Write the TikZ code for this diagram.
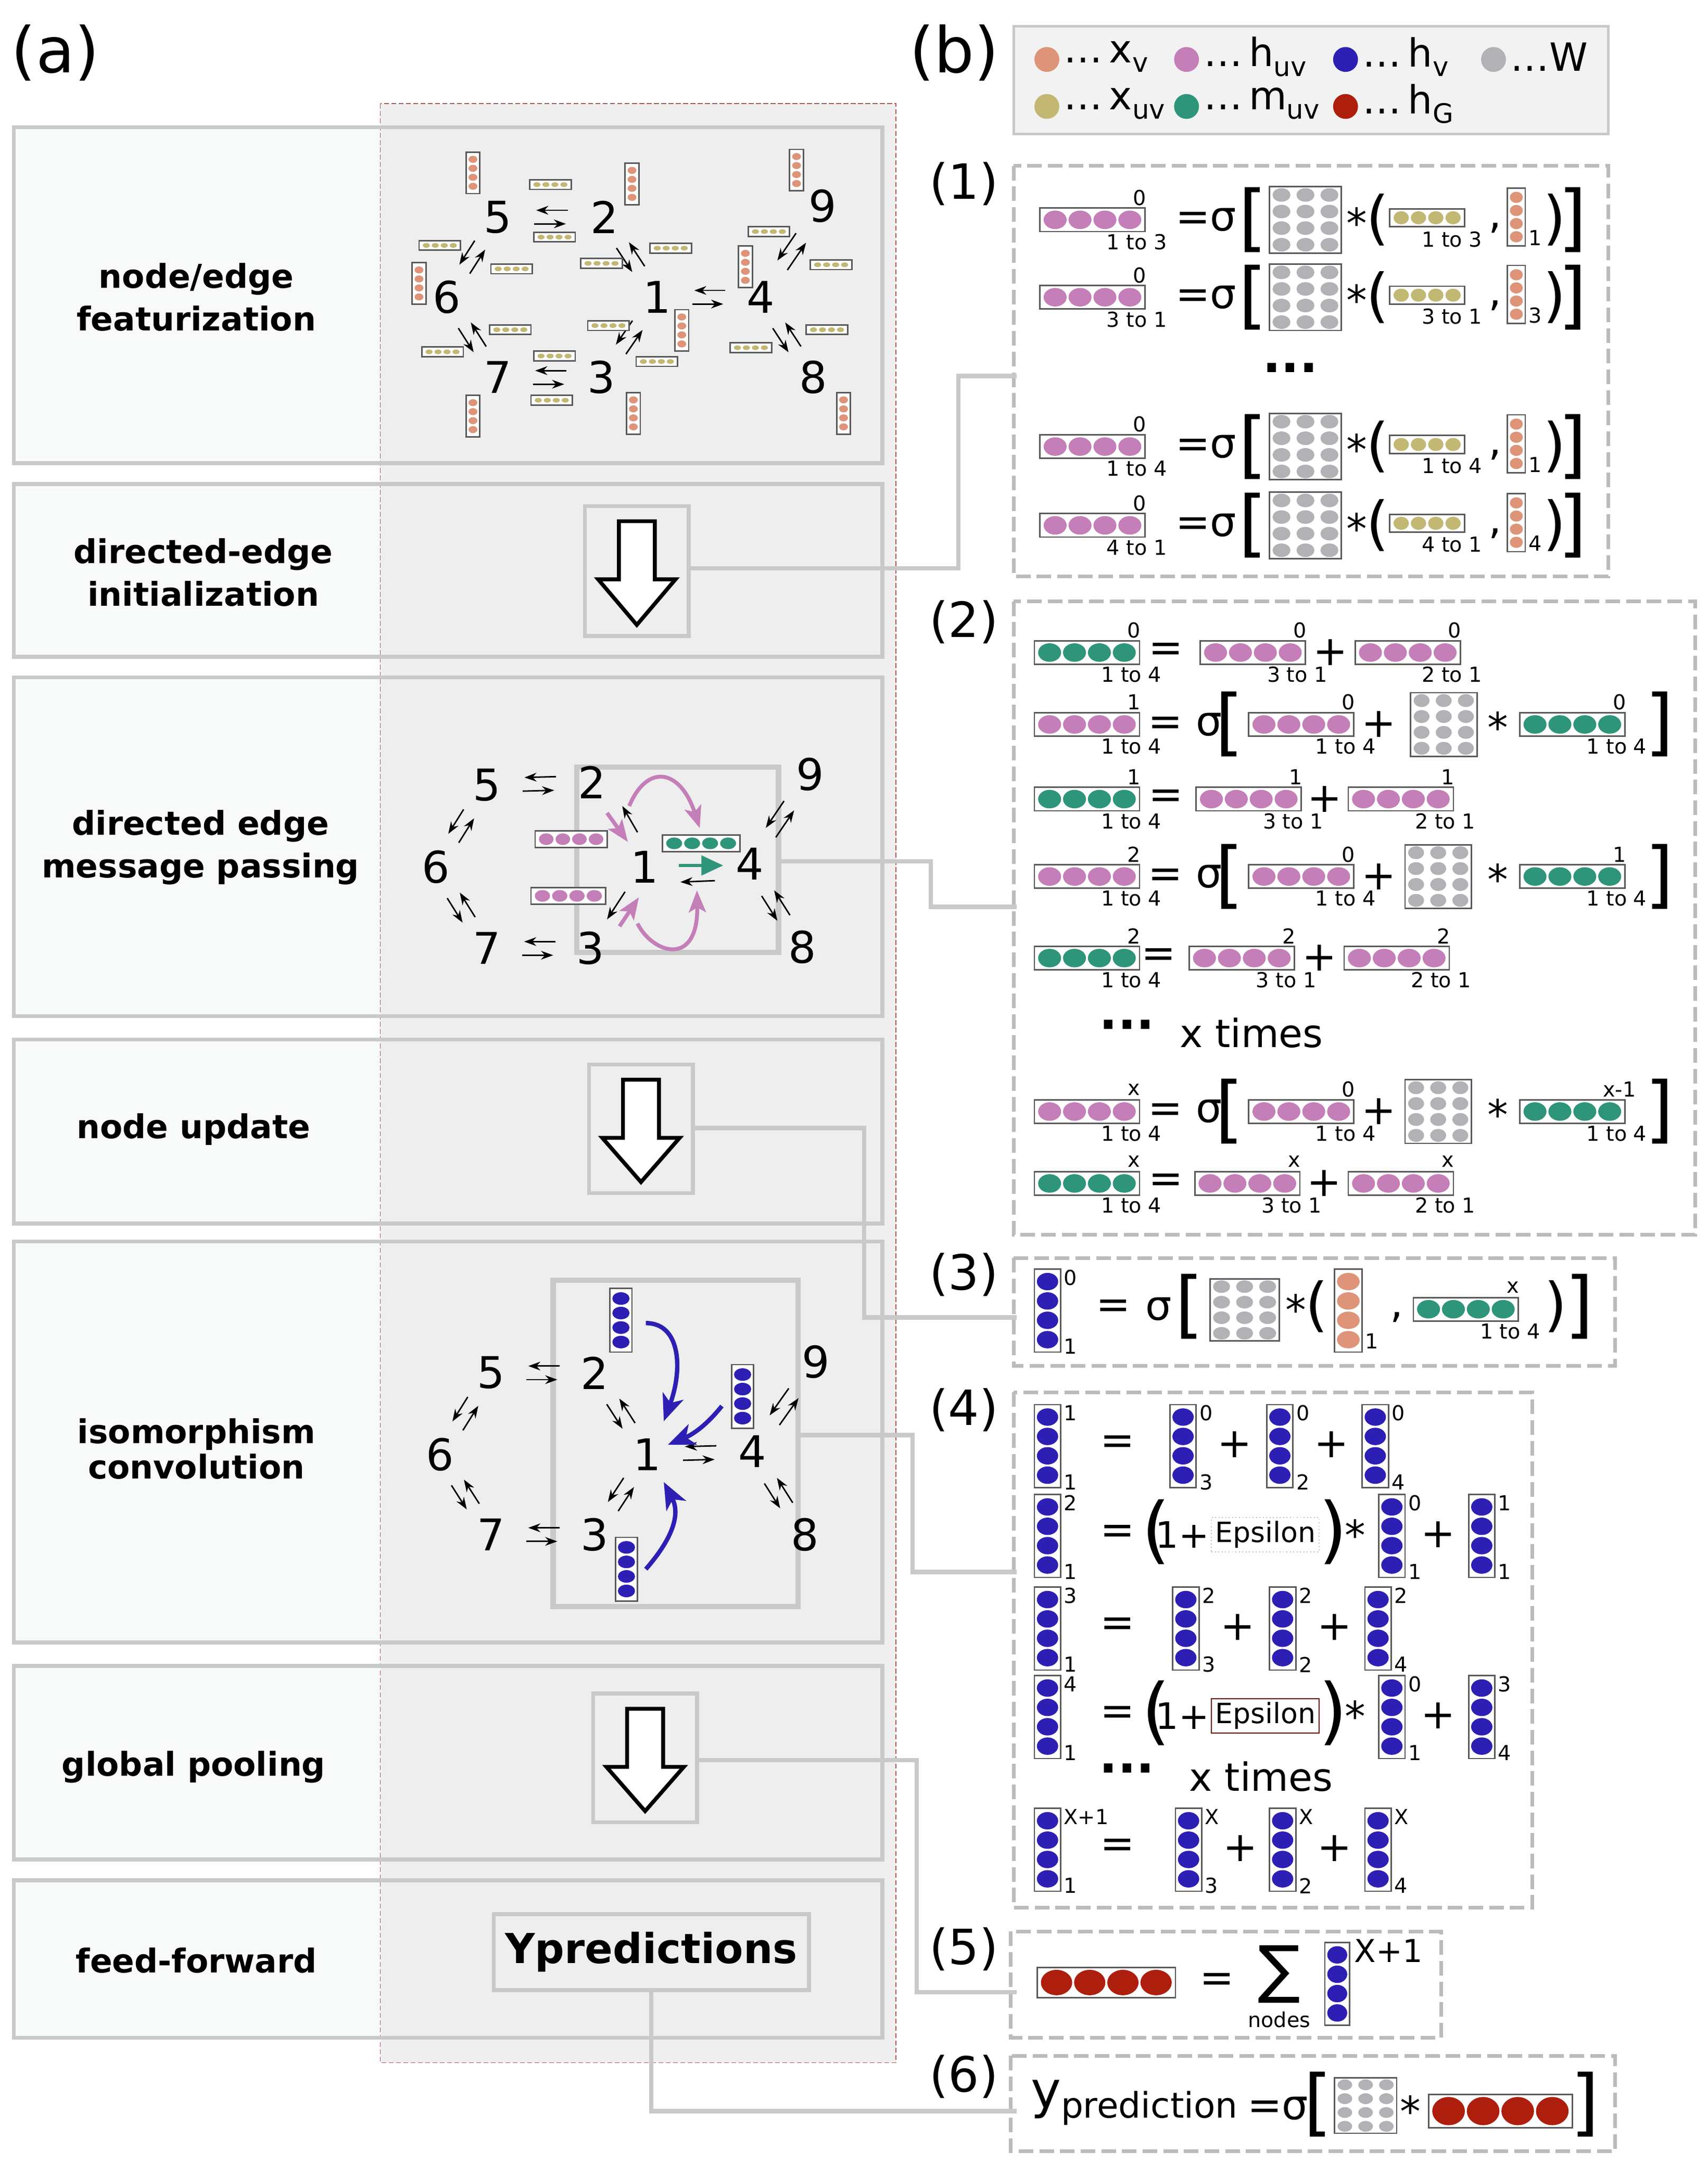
\documentclass[tikz,border=0pt]{standalone}
\usepackage{fontspec}
\setmainfont{DejaVu Sans}
\usetikzlibrary{arrows.meta,calc}
\definecolor{pinkc}{HTML}{C47EB8}
\definecolor{tealc}{HTML}{2E957A}
\definecolor{bluec}{HTML}{2E1FB4}
\definecolor{greyc}{HTML}{B2B1B6}
\definecolor{orangec}{HTML}{DE9478}
\definecolor{olivec}{HTML}{C3B774}
\definecolor{redc}{HTML}{AE1E0C}
\definecolor{framec}{HTML}{C8CACA}
\definecolor{colbg}{HTML}{EDEEED}
\definecolor{rowbg}{HTML}{F8F9F9}
\definecolor{dashc}{HTML}{BDBABA}
\newcommand\fs[1]{\fontsize{#1}{#1}\selectfont}
\tikzset{
 vbox/.style={draw=gray!70!black,fill=white,line width=0.6pt},
 supl/.style={font=\fs{8.5},inner sep=0},
 eqs/.style={font=\fs{17},inner sep=0},
 brk/.style={font=\fs{30},inner sep=0},
 prn/.style={font=\fs{24},inner sep=0},
 gnum/.style={font=\fs{18},inner sep=1pt},
 sa/.style={-{Stealth[length=5pt,width=3.6pt]},line width=0.6pt},
 rowbox/.style={draw=framec,line width=1.6pt,fill=rowbg},
 dbox/.style={draw=dashc,dashed,dash pattern=on 6pt off 2.5pt,line width=1.5pt},
 conn/.style={draw=framec,line width=1.8pt},
 rlab/.style={font=\fs{13.5}\bfseries,align=center},
 plab/.style={font=\fs{20}},
}
\newcommand\hvec[6]{\filldraw[vbox] (#1,#2) rectangle ++({#4*#5+4},#6);
 \foreach \ii in {1,...,#4}{\fill[#3] ({#1+2+(\ii-0.5)*#5},{#2+#6/2}) ellipse ({#5/2-0.7} and {#6/2-1.8});}}
\newcommand\vvec[6]{\filldraw[vbox] (#1,#2) rectangle ++(#5,{#4*#6+4});
 \foreach \ii in {1,...,#4}{\fill[#3] ({#1+#5/2},{#2+2+(\ii-0.5)*#6}) ellipse ({#5/2-1.8} and {#6/2-0.7});}}
\newcommand\wmat[4]{\filldraw[vbox] (#1,#2) rectangle ++(#3,#4);
 \foreach \cc in {0,1,2}{\foreach \rr in {0,1,2,3}{\fill[greyc] ({#1+#3*(\cc+0.5)/3},{#2+#4*(\rr+0.5)/4}) ellipse ({#3/6-2.2} and {#4/8-1.1});}}}
\newcommand\hv[5]{\hvec{#2}{#3-8.5}{#1}{4}{18}{17}
 \node[supl] at (#2+72,#3-16) {#4}; \node[supl] at (#2+70,#3+16) {#5};}
\newcommand\bv[4]{\vvec{#1}{#2}{bluec}{4}{19}{14}
 \node[supl,anchor=west] at (#1+21,#2+6) {#3}; \node[supl,anchor=west] at (#1+21,#2+56) {#4};}
\newcommand\he[3][]{\draw[sa,#1] ($(#2)!0.34!(#3)!2.8pt!-90:(#3)$) -- ($(#2)!0.64!(#3)!2.8pt!-90:(#3)$);}
\newcommand\dedge[2]{\he{#1}{#2}\he{#2}{#1}}
\newcommand\downarr[4]{\filldraw[rowbox,fill=colbg] (#1,#2) rectangle (#3,#4);
 \draw[line width=1.6pt,fill=white,line join=miter]
  ({(#1+#3)/2-13},{#2+11}) -- ({(#1+#3)/2+13},{#2+11}) -- ({(#1+#3)/2+13},{#2+53}) -- ({(#1+#3)/2+28},{#2+53})
  -- ({(#1+#3)/2},{#4-8}) -- ({(#1+#3)/2-28},{#2+53}) -- ({(#1+#3)/2-13},{#2+53}) -- cycle;}
\newcommand\sbx[1]{\raisebox{-0.45ex}{\fs{11}#1}}
\begin{document}
\begin{tikzpicture}[x=0.02cm,y=-0.02cm]
\useasboundingbox (0,0) rectangle (1235,1566);
\fill[white] (0,0) rectangle (1235,1566);
% ---------------- panel (a)
\node[plab,font=\fs{26}] (la) at (40,38) {(a)};
\node[plab,font=\fs{26}] (lb) at (690,38) {(b)};
\foreach \a/\b in {92/335,350/475,490/735,752/885,898/1188,1205/1345,1360/1474}{
 \filldraw[rowbox] (10,\a) rectangle (638,\b);}
\fill[colbg,opacity=0.92] (275,75) rectangle (648,1492);
\draw[draw=red!30!gray,dashed,dash pattern=on 2pt off 1pt,line width=0.4pt] (275,75) rectangle (648,1492);
\foreach \a/\b in {92/335,350/475,490/735,752/885,898/1188,1205/1345,1360/1474}{
 \draw[draw=framec,line width=1.6pt] (10,\a) rectangle (638,\b);}
\node[rlab] (r1) at (142,215) {node/edge\\[4pt]featurization};
\node[rlab] (r2) at (147,414) {directed-edge\\[4pt]initialization};
\node[rlab] (r3) at (145,613) {directed edge\\[4pt]message passing};
\node[rlab] (r4) at (140,817) {node update};
\node[rlab] (r5) at (142,1048) {isomorphism\\[1pt]convolution};
\node[rlab] (r6) at (140,1278) {global pooling};
\node[rlab] (r7) at (142,1418) {feed-forward};
% graph 1
\foreach \n/\x/\y in {5/360/157,2/437/157,9/595/149,6/323/215,1/475/215,4/550/215,7/360/273,3/435/273,8/588/273}{
 \node[gnum] (a\n) at (\x,\y) {\n};}
\foreach \p/\q in {5/2,5/6,2/1,6/7,7/3,3/1,1/4,4/9,4/8}{\dedge{a\p}{a\q}}
\foreach \x/\y in {337/110,452/118,571/108,298/190,488/224,534/178,337/286,453/284,605/284}{
 \vvec{\x}{\y}{orangec}{4}{10}{6.5}}
\foreach \x/\y in {383/130,386/168,303/174,355/191,420/187,470/176,354/235,305/251,386/254,384/286,425/232,460/258,528/248,583/235,541/164,586/188}{
 \hvec{\x}{\y}{olivec}{4}{6.5}{7}}
\downarr{423}{366}{498}{460}
\coordinate (d1) at (498,411);
% graph 2
\draw[draw=framec,line width=2.2pt] (417,555) rectangle (563,689);
\foreach \n/\x/\y in {5/352/568,2/428/566,9/586/560,6/315/627,1/466/627,4/542/625,7/352/686,3/427/686,8/580/685}{
 \node[gnum] (b\n) at (\x,\y) {\n};}
\foreach \p/\q in {5/2,5/6,6/7,7/3,4/9,4/8}{\dedge{b\p}{b\q}}
\draw[sa] (461,602) -- (450,583);
\draw[sa] (452,645) -- (439,665);
\draw[sa] (517,637) -- (492,638);
\draw[-{Triangle[length=9pt,width=8pt]},tealc,line width=1.4pt] (491,626) -- (523,626);
\begin{scope}[pinkc,line width=1.6pt,-{Stealth[length=9pt,width=7pt,inset=2pt]}]
\draw (455,583) .. controls (468,552) and (492,556) .. (506,599);
\draw (439,588) -- (454,609);
\draw (461,668) .. controls (472,690) and (505,700) .. (504,644);
\draw (448,670) -- (462,649);
\end{scope}
\hvec{479}{604}{tealc}{4}{13}{12}
\hvec{387}{601}{pinkc}{4}{12}{12}
\hvec{384}{642}{pinkc}{4}{12.5}{12}
\coordinate (d2) at (563,623);
\downarr{426}{770}{501}{863}
\coordinate (d3) at (501,816);
% graph 3
\draw[draw=framec,line width=2.2pt] (400,926) rectangle (577,1162);
\foreach \n/\x/\y in {5/355/993,2/430/993,9/590/985,6/318/1052,1/468/1052,4/544/1050,7/355/1110,3/430/1110,8/582/1110}{
 \node[gnum] (c\n) at (\x,\y) {\n};}
\foreach \p/\q in {5/2,5/6,2/1,6/7,7/3,3/1,1/4,4/9,4/8}{\dedge{c\p}{c\q}}
\vvec{441}{932}{bluec}{4}{16}{10.5}
\vvec{529}{987}{bluec}{4}{16}{10.5}
\vvec{445}{1112}{bluec}{4}{16}{10.5}
\begin{scope}[bluec,line width=1.8pt,-{Stealth[length=11pt,width=9pt,inset=3pt]}]
\draw (467,957) .. controls (492,957) and (494,990) .. (480,1028);
\draw (522,1017) .. controls (510,1032) and (500,1038) .. (483,1045);
\draw (467,1135) .. controls (487,1112) and (492,1095) .. (480,1072);
\end{scope}
\coordinate (d4) at (577,1038);
\downarr{429}{1225}{504}{1318}
\coordinate (d5) at (504,1273);
\node[draw=framec,line width=1.6pt,fill=colbg,minimum width=228*0.02cm,minimum height=55*0.02cm,font=\fs{17}\bfseries] (yp) at (471,1412) {Ypredictions};
% ---------------- panel (b)
\filldraw[draw=framec,line width=1pt,fill=black!5] (733,19) rectangle (1163,97);
\foreach \x/\y/\c/\t in {757/43/orangec/{…\,x\sbx{v}},858/43/pinkc/{…\,h\sbx{uv}},973/43/bluec/{…\,h\sbx{v}},1080/43/greyc/{…W},757/77/olivec/{…\,x\sbx{uv}},858/77/tealc/{…\,m\sbx{uv}},973/77/redc/{…\,h\sbx{G}}}{
 \fill[\c] (\x,\y) circle (9);
 \node[anchor=west,font=\fs{16},inner sep=0] at (\x+12,\y-2) {\t};}
% (1)
\node[plab] (p1) at (697,133) {(1)};
\draw[dbox] (733,120) rectangle (1163,417);
\foreach \y/\la/\sb in {159/{1 to 3}/1,215/{3 to 1}/3,323/{1 to 4}/1,380/{4 to 1}/4}{
 \hv{pinkc}{752}{\y}{0}{\la}
 \node[eqs] at (872,\y) {=σ};
 \node[brk] at (906,\y) {[};
 \wmat{918}{\y-24}{52}{48}
 \node[eqs] at (981,\y+2) {*};
 \node[prn] at (996,\y) {(};
 \hvec{1005}{\y-8}{olivec}{4}{12.5}{13}
 \node[supl] at (1050,\y+14) {\la};
 \node[eqs] at (1081,\y+6) {,};
 \vvec{1090}{\y-23}{orangec}{4}{13}{9.5}
 \node[supl] at (1110,\y+13) {\sb};
 \node[prn] at (1124,\y) {)};
 \node[brk] at (1137,\y) {]};
}
\node[font=\fs{20}\bfseries] at (933,266) {...};
\coordinate (e1) at (735,272);
% (2)
\node[plab] (p2) at (697,450) {(2)};
\draw[dbox] (733,435) rectangle (1226,893);
\newcommand\sumrow[6]{%
 \hv{tealc}{748}{#1}{#2}{1 to 4}
 \node[eqs] at (#6,#1) {=};
 \hv{pinkc}{#4}{#1}{#3}{3 to 1}
 \node[eqs] at ({(#4+76+#5)/2},#1) {+};
 \hv{pinkc}{#5}{#1}{#3}{2 to 1}}
\newcommand\sigrow[4]{%
 \hv{pinkc}{748}{#1}{#2}{1 to 4}
 \node[eqs] at (857,#1) {= σ};
 \node[brk] at (889,#1) {[};
 \hv{pinkc}{903}{#1}{0}{1 to 4}
 \node[eqs] at (997,#1) {+};
 \wmat{#4}{#1-23}{48}{46}
 \node[eqs] at (1083,#1+2) {*};
 \hv{tealc}{1099}{#1}{#3}{1 to 4}
 \node[brk] at (1200,#1) {]};}
\sumrow{472}{0}{0}{868}{980}{843}
\sigrow{524}{1}{0}{1020}
\sumrow{578}{1}{1}{865}{975}{843}
\sigrow{634}{2}{1}{1016}
\sumrow{693}{2}{2}{860}{972}{838}
\node[font=\fs{20}\bfseries] at (815,741) {...};
\node[font=\fs{16}] at (905,747) {x times};
\sigrow{804}{x}{x-1}{1016}
\sumrow{856}{x}{x}{864}{975}{843}
\coordinate (e2) at (735,656);
% (3)
\node[plab] (p3) at (697,922) {(3)};
\draw[dbox] (733,910) rectangle (1168,988);
\bv{748}{918}{0}{1}
\node[eqs] at (805,947) {=};
\node[eqs] at (838,947) {σ};
\node[brk] at (860,945) {[};
\wmat{875}{925}{50}{45}
\node[eqs] at (937,947) {*};
\node[prn] at (952,945) {(};
\vvec{965}{918}{orangec}{4}{20}{14}
\node[supl,anchor=west] at (987,970) {1};
\node[eqs] at (1010,953) {,};
\hv{tealc}{1022}{947}{x}{1 to 4}
\node[prn] at (1125,945) {)};
\node[brk] at (1142,945) {]};
\coordinate (e3) at (735,953);
% (4)
\node[plab] (p4) at (697,1020) {(4)};
\draw[dbox] (733,1007) rectangle (1108,1380);
\newcommand\bsum[5]{%
 \bv{748}{#1}{#2}{1}
 \node[eqs] at (808,#1+29) {=};
 \bv{#4}{#1}{#3}{3}
 \node[eqs] at (#4+47,#1+29) {+};
 \bv{#5}{#1}{#3}{2}
 \node[eqs] at (#5+47,#1+29) {+};
 \bv{#5+69}{#1}{#3}{4}}
\newcommand\epsrow[5]{%
 \bv{748}{#1}{#2}{1}
 \node[eqs] at (808,#1+29) {=};
 \node[prn,font=\fs{30}] at (836,#1+27) {(};
 \node[eqs,font=\fs{15}] at (855,#1+29) {1+};
 \node[draw=#5,inner sep=1.5pt,font=\fs{11.5},fill=white] at (915,#1+29) {Epsilon};
 \node[prn,font=\fs{30}] at (964,#1+27) {)};
 \node[eqs] at (980,#1+29) {*};
 \bv{997}{#1}{0}{1}
 \node[eqs] at (1040,#1+29) {+};
 \bv{1062}{#1}{#3}{#4}}
\bsum{1016}{1}{0}{846}{916}
\epsrow{1081}{2}{1}{1}{gray!50,densely dotted}
\bsum{1148}{3}{2}{848}{918}
\epsrow{1212}{4}{3}{4}{red!40!black}
\node[font=\fs{20}\bfseries] at (815,1279) {...};
\node[font=\fs{16}] at (912,1285) {x times};
\bsum{1308}{X+1}{X}{850}{918}
\coordinate (e4) at (735,1137);
% (5)
\node[plab] (p5) at (697,1410) {(5)};
\draw[dbox] (731,1397) rectangle (1042,1474);
\hvec{750}{1423}{redc}{4}{24}{22}
\node[eqs] at (880,1434) {=};
\node[font=\fs{26},inner sep=0] at (925,1428) {∑};
\node[supl] at (925,1461) {nodes};
\vvec{958}{1405}{bluec}{4}{18}{14}
\node[font=\fs{13},anchor=west,inner sep=0] at (979,1411) {X+1};
\coordinate (e5) at (735,1441);
% (6)
\node[plab] (p6) at (697,1502) {(6)};
\draw[dbox] (731,1487) rectangle (1168,1556);
\node[font=\fs{21},inner sep=0,anchor=west] at (745,1521) {y\raisebox{-0.35ex}{\fs{14.5}prediction}};
\node[eqs] at (924,1525) {=σ};
\node[brk] at (953,1522) {[};
\wmat{965}{1503}{45}{40}
\node[eqs] at (1020,1527) {*};
\hvec{1033}{1515}{redc}{4}{25}{24}
\node[brk] at (1146,1522) {]};
\coordinate (e6) at (735,1527);
% connectors
\draw[conn] (d1) -- (693,411) -- (693,272) -- (e1);
\draw[conn] (d2) -- (673,623) -- (673,656) -- (e2);
\draw[conn] (d3) -- (625,816) -- (625,953) -- (e3);
\draw[conn] (d4) -- (660,1038) -- (660,1137) -- (e4);
\draw[conn] (d5) -- (663,1273) -- (663,1441) -- (e5);
\draw[conn] (yp.south) -- (471,1527) -- (e6);
\end{tikzpicture}
\end{document}
